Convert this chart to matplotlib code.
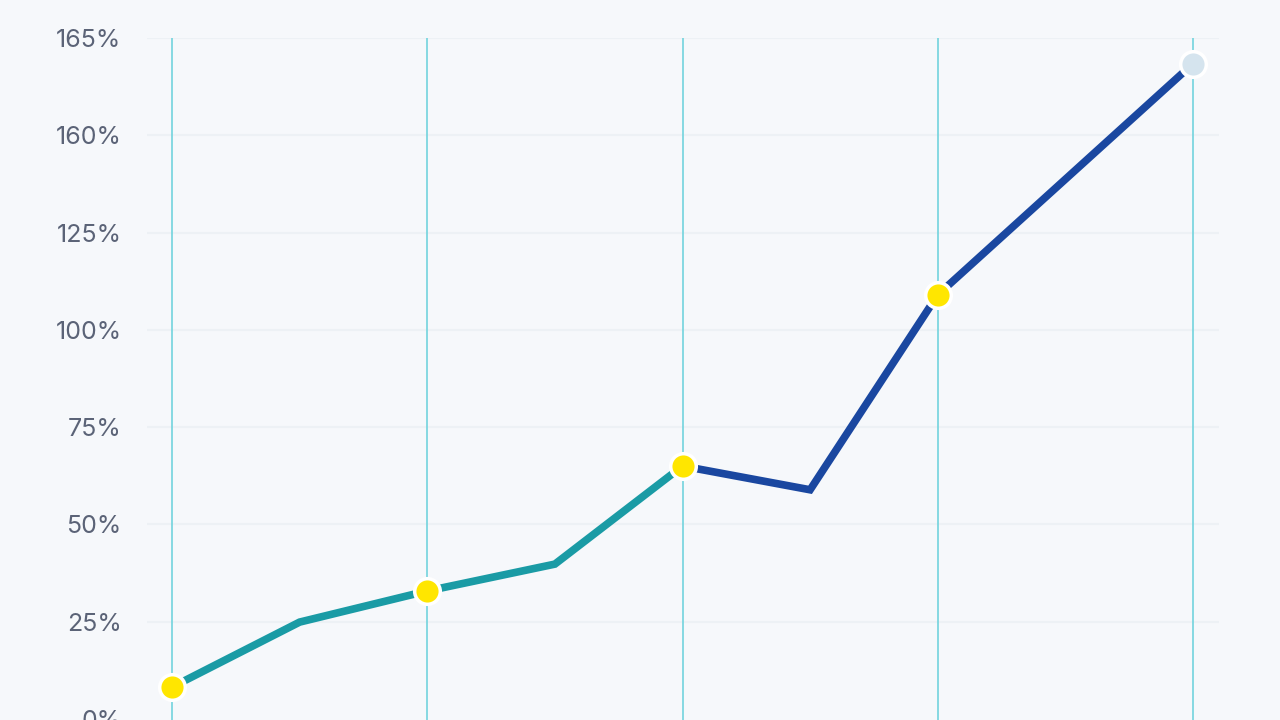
import matplotlib
matplotlib.use('Agg')
import matplotlib.pyplot as plt

plt.rcParams['font.family'] = ['Inter', 'DejaVu Sans']

# data
x_vals = [0, 0.5, 1, 1.5, 2, 2.5, 3, 4]
y_vals = [8.2, 24.9, 32.9, 39.8, 65.0, 58.9, 109.0, 168.4]
split_idx = 4  # teal up to here, blue after
marker_x = [0, 1, 2, 3]
marker_y = [8.2, 32.9, 65.0, 109.0]
end_x, end_y = 4, 168.4

y_ticks = [0, 25, 50, 75, 100, 125, 150, 175]
y_labels = ['0%', '25%', '50%', '75%', '100%', '125%', '160%', '165%']

bg = '#f6f8fb'
fig = plt.figure(figsize=(12.8, 7.2), dpi=100, facecolor=bg)
W, H = 1280, 720
# axes in pixels: left 146.5, right 1218.5, top 38, bottom 720
ax = fig.add_axes([146.5 / W, 0, (1218.5 - 146.5) / W, (720 - 38) / H])
ax.set_facecolor(bg)
ax.set_xlim(-0.1, 4.1)
ax.set_ylim(-0.26, 175)

# grid
for xv in [0, 1, 2, 3, 4]:
    ax.axvline(xv, color='#72d3dd', lw=1.2, zorder=1)
for yv in y_ticks[1:]:
    ax.axhline(yv, color='#edf1f5', lw=1.6, zorder=0)

ax.plot(x_vals[:split_idx + 1], y_vals[:split_idx + 1], color='#1a9ba5',
        lw=5.5, solid_capstyle='butt', solid_joinstyle='miter', zorder=3)
ax.plot(x_vals[split_idx:], y_vals[split_idx:], color='#1a47a0',
        lw=5.5, solid_capstyle='butt', solid_joinstyle='miter', zorder=3)

ax.scatter(marker_x, marker_y, s=340, color='#ffe600', edgecolor='white',
           linewidth=2.5, zorder=5, clip_on=False)
ax.scatter([end_x], [end_y], s=340, color='#d5e4ee', edgecolor='white',
           linewidth=2.5, zorder=5, clip_on=False)

ax.set_yticks(y_ticks)
ax.set_yticklabels(y_labels)
ax.set_xticks([])
ax.tick_params(axis='y', length=0, pad=18, labelsize=18, labelcolor='#5b6377')
for s in ax.spines.values():
    s.set_visible(False)

fig.savefig('out.png', dpi=100, facecolor=bg)
